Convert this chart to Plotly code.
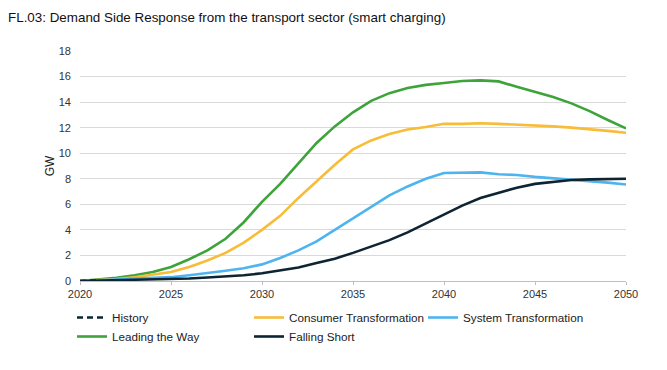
import plotly.graph_objects as go

years = list(range(2020, 2051))
history_years = [2020, 2021]
history = [0.0, 0.05]
leading_the_way = [0, 0.1, 0.25, 0.45, 0.7, 1.1, 1.7, 2.4, 3.3, 4.6, 6.2, 7.6, 9.2, 10.8, 12.1, 13.2,
                   14.1, 14.7, 15.1, 15.35, 15.5, 15.65, 15.7, 15.62, 15.2, 14.8, 14.4, 13.9, 13.3, 12.6, 11.95]
consumer_transformation = [0, 0.05, 0.15, 0.3, 0.5, 0.7, 1.1, 1.6, 2.2, 3.0, 4.0, 5.1, 6.5, 7.8, 9.1, 10.3,
                           11.0, 11.5, 11.85, 12.05, 12.3, 12.3, 12.35, 12.3, 12.25, 12.15, 12.1, 12.0, 11.9, 11.75, 11.6]
system_transformation = [0, 0.05, 0.1, 0.15, 0.2, 0.3, 0.45, 0.6, 0.8, 1.0, 1.3, 1.8, 2.4, 3.1, 4.0, 4.9,
                         5.8, 6.7, 7.4, 8.0, 8.45, 8.5, 8.5, 8.35, 8.3, 8.15, 8.05, 7.95, 7.8, 7.7, 7.55]
falling_short = [0, 0.03, 0.06, 0.1, 0.12, 0.15, 0.2, 0.27, 0.35, 0.45, 0.6, 0.8, 1.05, 1.4, 1.75, 2.2,
                 2.7, 3.2, 3.8, 4.5, 5.2, 5.9, 6.5, 6.9, 7.3, 7.6, 7.75, 7.9, 7.95, 8.0, 8.0]
x_ticks = [2020, 2025, 2030, 2035, 2040, 2045, 2050]
y_ticks = list(range(0, 19, 2))

C_GREEN = "#3DA33A"
C_YELLOW = "#F7BC38"
C_BLUE = "#4DB4EF"
C_DARK = "#0D2432"

FONT = "Liberation Sans, Arial, sans-serif"
W = 2.6

fig = go.Figure()
fig.add_trace(go.Scatter(x=years, y=leading_the_way, mode="lines", name="Leading the Way",
                         line=dict(color=C_GREEN, width=W), legend="legend"))
fig.add_trace(go.Scatter(x=years, y=consumer_transformation, mode="lines", name="Consumer Transformation",
                         line=dict(color=C_YELLOW, width=W), legend="legend2"))
fig.add_trace(go.Scatter(x=years, y=system_transformation, mode="lines", name="System Transformation",
                         line=dict(color=C_BLUE, width=W), legend="legend3"))
fig.add_trace(go.Scatter(x=years, y=falling_short, mode="lines", name="Falling Short",
                         line=dict(color=C_DARK, width=W), legend="legend2"))
fig.add_trace(go.Scatter(x=history_years, y=history, mode="lines", name="History",
                         line=dict(color=C_DARK, width=W, dash="6px,4px"), legend="legend"))

H = 370.0
Wd = 667.0
PL, PR, PT, PB = 80, 626, 51, 281
PW, PH = PR - PL, PB - PT
LEG_TOP = (PB - 303) / PH

leg_common = dict(orientation="v", yanchor="top", xanchor="left", y=LEG_TOP,
                  font=dict(family=FONT, size=11.7, color="#222222"),
                  bgcolor="rgba(0,0,0,0)", tracegroupgap=0, itemwidth=30)

fig.update_layout(
    width=667, height=370,
    margin=dict(l=PL, r=667 - PR, t=PT, b=370 - PB),
    paper_bgcolor="white", plot_bgcolor="white",
    font=dict(family=FONT, size=11, color="#333333"),
    title=dict(text="FL.03: Demand Side Response from the transport sector (smart charging)",
               x=8 / Wd, xanchor="left", y=1 - 17 / H, yanchor="middle",
               font=dict(family=FONT, size=13.4, color="#111111")),
    xaxis=dict(range=[2020, 2050], tickvals=x_ticks, showgrid=False, showline=True,
               linecolor="#BFBFBF", linewidth=1, ticks="outside", ticklen=3, tickcolor="#BFBFBF",
               zeroline=False, tickfont=dict(size=11, color="#333333")),
    yaxis=dict(range=[0, 18], tickvals=y_ticks, showgrid=True, gridcolor="#D9D9D9", gridwidth=1,
               showline=False, zeroline=False, ticks="", ticklen=0, ticklabelstandoff=8,
               title=dict(text="GW", standoff=1, font=dict(size=12, color="#222222")),
               tickfont=dict(size=11, color="#333333")),
    showlegend=True,
    legend=dict(x=(72 - PL) / PW, traceorder="reversed", **leg_common),
    legend2=dict(x=(249 - PL) / PW, traceorder="normal", **leg_common),
    legend3=dict(x=(423 - PL) / PW, traceorder="normal", **leg_common),
)

fig.write_html("out.html", config={"displayModeBar": False},
               post_script="document.body.style.margin='0';")
